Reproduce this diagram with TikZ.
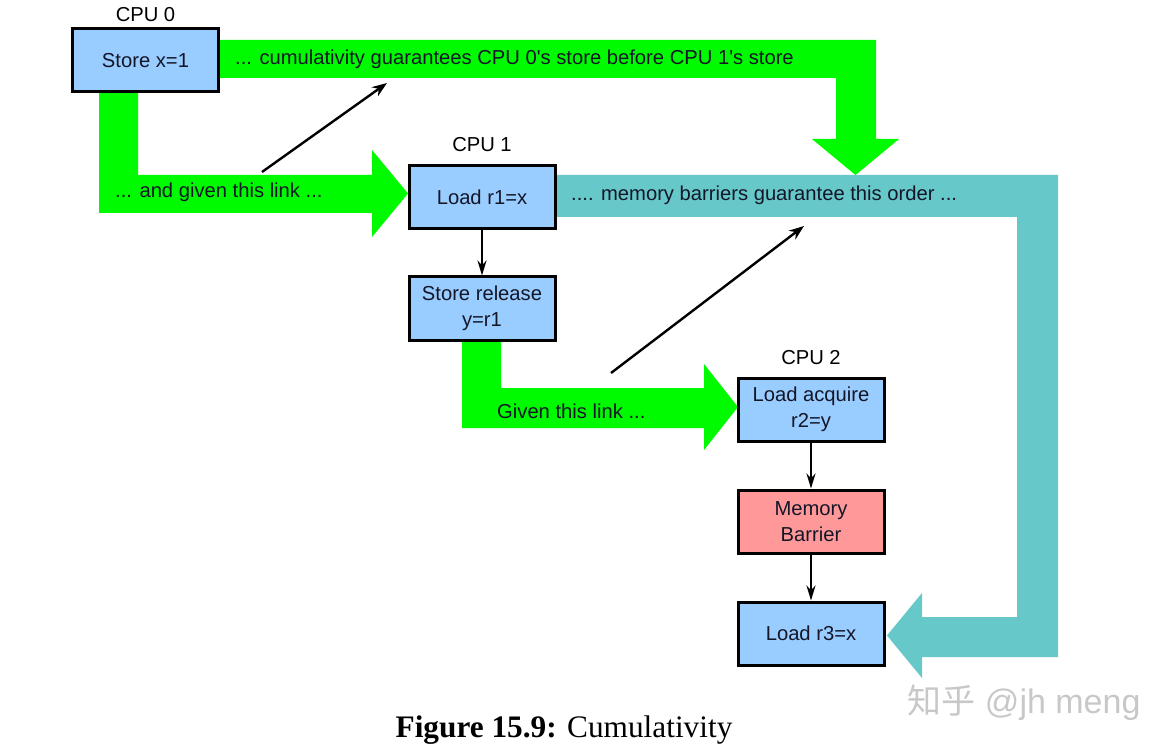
\documentclass[tikz,border=0pt]{standalone}
\usepackage{fontspec}
\setmainfont{Liberation Sans}[Ligatures=TeXOff]
\newfontfamily\capfont{Liberation Serif}
\newfontfamily\cjkfont{Noto Sans CJK SC}
\usetikzlibrary{arrows.meta}
\definecolor{boxblue}{RGB}{153,204,255}
\definecolor{boxred}{RGB}{255,153,153}
\definecolor{fatgreen}{RGB}{0,250,0}
\definecolor{fatteal}{RGB}{102,200,200}
\definecolor{txt}{RGB}{20,22,40}
\definecolor{wm}{RGB}{200,200,200}
\begin{document}
\begin{tikzpicture}[x=1pt,y=-1pt,
  opbox/.style={draw=black,line width=3pt,fill=boxblue,minimum width=146pt,minimum height=63pt,
     align=center,font=\fontsize{20.2}{26}\selectfont,text=txt,inner sep=0pt},
  barbox/.style={opbox,fill=boxred},
  cpulabel/.style={font=\fontsize{20.2}{24}\selectfont,text=black},
  bandtext/.style={anchor=west,font=\fontsize{20.2}{24}\selectfont,text=txt,inner sep=0pt},
  flow/.style={-{Stealth[length=15pt,width=9pt]},line width=2.4pt,black},
  hint/.style={-{Stealth[length=15pt,width=11pt]},line width=2.4pt,black}]
\useasboundingbox (0,0) rectangle (1176,754);
% fat arrows
\fill[fatteal] (556,175) -- (1058,175) -- (1058,657) -- (922,657) -- (922,678) -- (887,635.5)
  -- (922,593) -- (922,617) -- (1017,617) -- (1017,217) -- (556,217) -- cycle;
\fill[fatgreen] (219,40) -- (876,40) -- (876,139) -- (899,139) -- (855.5,175) -- (812,139)
  -- (836,139) -- (836,78) -- (219,78) -- cycle;
\fill[fatgreen] (99,93) -- (138,93) -- (138,175) -- (372,175) -- (372,150) -- (408,193.5)
  -- (372,237) -- (372,213) -- (99,213) -- cycle;
\fill[fatgreen] (462,341) -- (501,341) -- (501,388) -- (704,388) -- (704,364) -- (738,407)
  -- (704,450) -- (704,428) -- (462,428) -- cycle;
% boxes
\node[opbox] (st0) at (145.5,60.5) {Store x=1};
\node[cpulabel] (c0) at (145.5,15) {CPU 0};
\node[opbox] (ld1) at (482,197) {Load r1=x};
\node[cpulabel] (c1) at (482,145) {CPU 1};
\node[opbox] (rel) at (482,308.5) {Store release\\y=r1};
\node[opbox] (acq) at (811,409.5) {Load acquire\\r2=y};
\node[cpulabel] (c2) at (811,358) {CPU 2};
\node[barbox] (mb) at (811,521.5) {Memory\\Barrier};
\node[opbox] (ld3) at (811,633.5) {Load r3=x};
% band texts
\node[bandtext] (t1) at (235,59) {... cumulativity guarantees CPU 0's store before CPU 1's store};
\node[bandtext] (t2) at (115,192) {... and given this link ...};
\node[bandtext] (t3) at (571,195) {.... memory barriers guarantee this order ...};
\node[bandtext] (t4) at (497,411) {Given this link ...};
% program order arrows
\draw[flow] (ld1.south) -- (rel.north);
\draw[flow] (acq.south) -- (mb.north);
\draw[flow] (mb.south) -- (ld3.north);
% hint arrows
\coordinate (h1a) at (262,172);
\coordinate (h1b) at (387,83);
\coordinate (h2a) at (611,373);
\coordinate (h2b) at (804,226);
\draw[hint] (h1a) -- (h1b);
\draw[hint] (h2a) -- (h2b);
% caption and watermark
\node[font=\capfont\fontsize{31.3}{36}\selectfont,text=black,inner sep=0pt] (cap) at (564,730)
  {\textbf{Figure 15.9:} Cumulativity};
\node[font=\fontsize{34}{38}\selectfont,text=wm,inner sep=0pt] (wmk) at (1024,703)
  {{\cjkfont 知乎} @jh meng};
\end{tikzpicture}
\end{document}
